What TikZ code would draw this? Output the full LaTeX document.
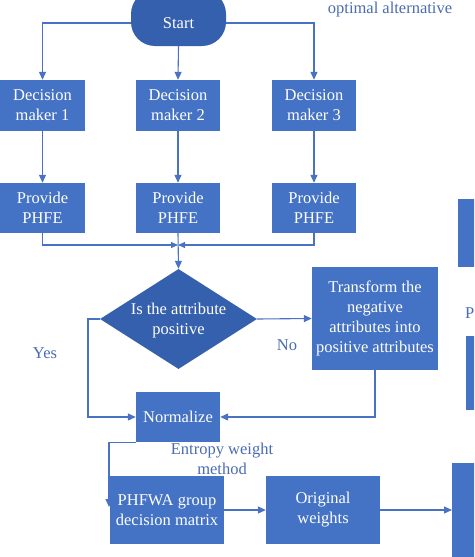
\documentclass[tikz,border=0pt]{standalone}
\usepackage{fontspec}
\setmainfont{Liberation Serif}
\usetikzlibrary{arrows.meta,shapes.geometric,calc}
\definecolor{boxblue}{HTML}{4472C4}
\definecolor{darkblue}{HTML}{3560AE}
\definecolor{lineblue}{HTML}{4A72C2}
\definecolor{labelblue}{HTML}{4A6CB3}
\tikzset{
  base/.style={font=\fontsize{16.5}{20}\selectfont, align=center, text=white, inner sep=0pt},
  stepbox/.style={base, fill=boxblue, draw=none, rectangle},
  lbl/.style={font=\fontsize{16.5}{20}\selectfont, align=center, text=labelblue, inner sep=0pt},
  conn/.style={draw=lineblue, line width=1.1pt},
  arr/.style={conn, -{Triangle[width=7pt,length=8pt]}},
}
\begin{document}
\begin{tikzpicture}[x=1pt,y=-1pt]
\useasboundingbox (0,0) rectangle (474,557);
\clip (0,0) rectangle (474,557);
\fill[white] (0,0) rectangle (474,557);

% nodes
\node[stepbox, fill=darkblue, minimum width=95pt, minimum height=56pt, rounded corners=24pt] (start) at (178.5,18) {};
\node[base] (starttext) at ([yshift=-5pt]start.center) {Start};
\node[stepbox, minimum width=85pt, minimum height=51pt] (dm1) at (42.5,105.5) {Decision\\maker 1};
\node[stepbox, minimum width=84pt, minimum height=51pt] (dm2) at (178,105.5) {Decision\\maker 2};
\node[stepbox, minimum width=84pt, minimum height=51pt] (dm3) at (314,105.5) {Decision\\maker 3};
\node[stepbox, minimum width=85pt, minimum height=50pt] (p1) at (42.5,208) {Provide\\PHFE};
\node[stepbox, minimum width=84pt, minimum height=50pt] (p2) at (178,208) {Provide\\PHFE};
\node[stepbox, minimum width=84pt, minimum height=50pt] (p3) at (314,208) {Provide\\PHFE};
\coordinate (merge) at (178,245);
\node[diamond, fill=darkblue, minimum width=157pt, minimum height=100pt, inner sep=0pt] (dia) at (178.5,319) {};
\node[base] (diatext) at (178.5,321) {Is the attribute\\positive};
\node[stepbox, minimum width=126pt, minimum height=103pt] (trans) at (375,318.5) {Transform the\\negative\\attributes into\\positive attributes};
\node[stepbox, minimum width=84pt, minimum height=50pt] (norm) at (178,417) {Normalize};
\coordinate (yesturn) at (88,319);
\coordinate (normdown) at (109,507);

% connectors
\draw[arr] ([yshift=-5pt]start.west) -| (dm1.north);
\draw[arr] ([yshift=-5pt]start.east) -| (dm3.north);
\draw[arr] (start.south) -- (dm2.north);
\draw[arr] (dm1.south) -- (p1.north);
\draw[arr] (dm2.south) -- (p2.north);
\draw[arr] (dm3.south) -- (p3.north);
\draw[conn, -{Triangle[width=6pt,length=7pt]}] (p1.south) |- (merge);
\draw[conn, -{Triangle[width=6pt,length=7pt]}] (p3.south) |- (merge);
\draw[arr] (p2.south) -- (dia.north);
\draw[arr] (dia.east) -- (trans.west);
\draw[arr] (dia.west) -- (yesturn) |- (norm.west);
\draw[arr] (trans.south) |- (norm.east);
\draw[arr] (norm.south west) -| (normdown);

\node[stepbox, minimum width=114pt, minimum height=68pt] (phfwa) at (167,510) {PHFWA group\\decision matrix};
\node[stepbox, minimum width=114pt, minimum height=68pt] (orig) at (323,510) {Original\\weights};
\node[stepbox, minimum width=30pt, minimum height=110pt, anchor=north west] (rbox) at (452,463) {};
\node[stepbox, minimum width=25pt, minimum height=68pt, anchor=north west] (rb1) at (458,199) {};
\node[stepbox, minimum width=20pt, minimum height=74pt, anchor=north west] (rb2) at (466,336) {};

\draw[arr] (phfwa.east) -- (orig.west);
\draw[arr] (orig.east) -- (orig.east -| rbox.west);

% labels
\node[lbl] (yes) at (45,353) {Yes};
\node[lbl] (no) at (287,345) {No};
\node[lbl] (entropy) at (222,459) {Entropy weight\\method};
\node[lbl] (optalt) at (390,10) {optimal alternative};
\node[lbl, anchor=west] (pcut) at (465,313) {P};
\end{tikzpicture}
\end{document}
